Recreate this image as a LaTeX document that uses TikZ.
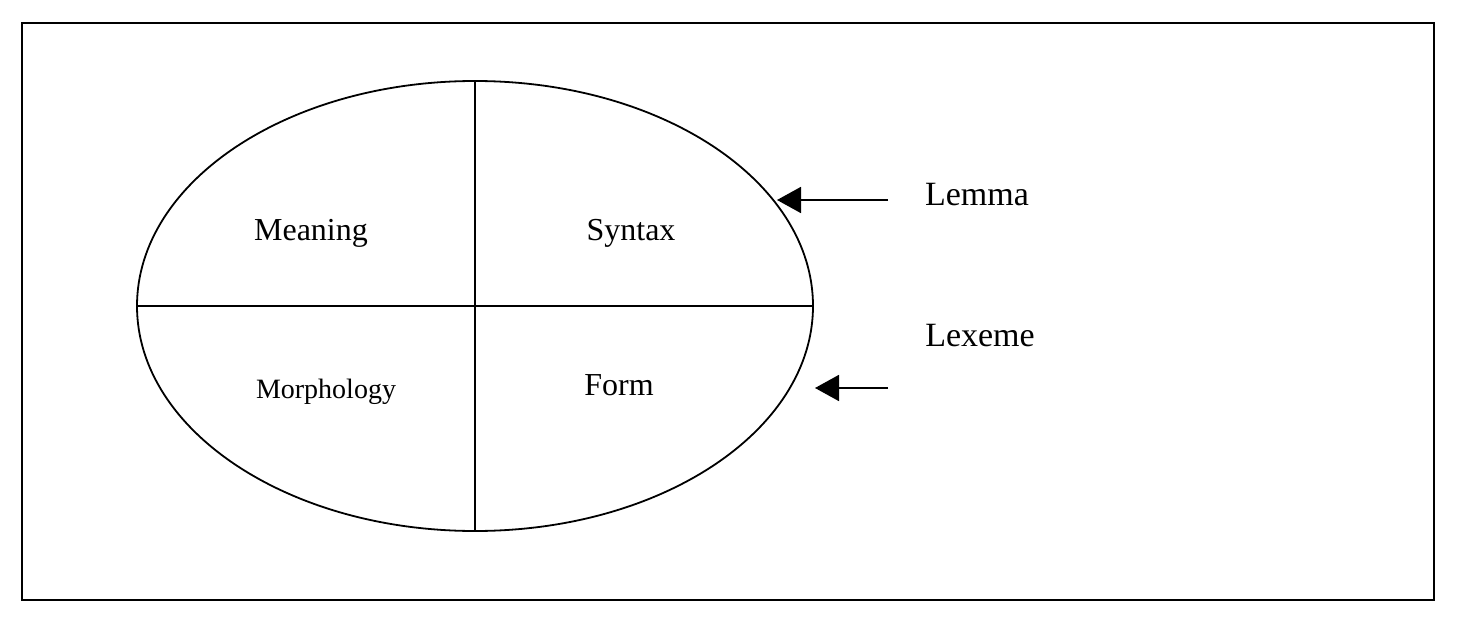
\documentclass[tikz,border=0pt]{standalone}
\usepackage{fontspec}
\setmainfont{Liberation Serif}
\usetikzlibrary{arrows.meta}
\begin{document}
\begin{tikzpicture}[x=1pt,y=-1pt,line width=1.8pt,
  lbl/.style={font=\fontsize{32}{36}\selectfont,anchor=center},
  arr/.style={-{Triangle[length=24pt,width=26pt]},line width=1.8pt}]
\useasboundingbox (0,0) rectangle (1472,623);
\draw[line width=1.5pt] (22,23) rectangle (1434,600);
\draw (475,306) ellipse [x radius=338, y radius=225];
\draw (475,81) -- (475,531);
\draw (137,306) -- (813,306);
\node[lbl] (meaning) at (311,233) {Meaning};
\node[lbl] (syntax) at (631,233) {Syntax};
\node[lbl,font=\fontsize{28}{32}\selectfont] (morph) at (326,392) {Morphology};
\node[lbl] (form) at (619,385) {Form};
\node[lbl,font=\fontsize{34}{38}\selectfont] (lemma) at (977,195) {Lemma};
\node[lbl,font=\fontsize{34}{38}\selectfont] (lexeme) at (980,336) {Lexeme};
\coordinate (a1s) at (888,200); \coordinate (a1e) at (777,200);
\coordinate (a2s) at (888,388); \coordinate (a2e) at (815,388);
\draw[arr] (a1s) -- (a1e);
\draw[arr] (a2s) -- (a2e);
\end{tikzpicture}
\end{document}
